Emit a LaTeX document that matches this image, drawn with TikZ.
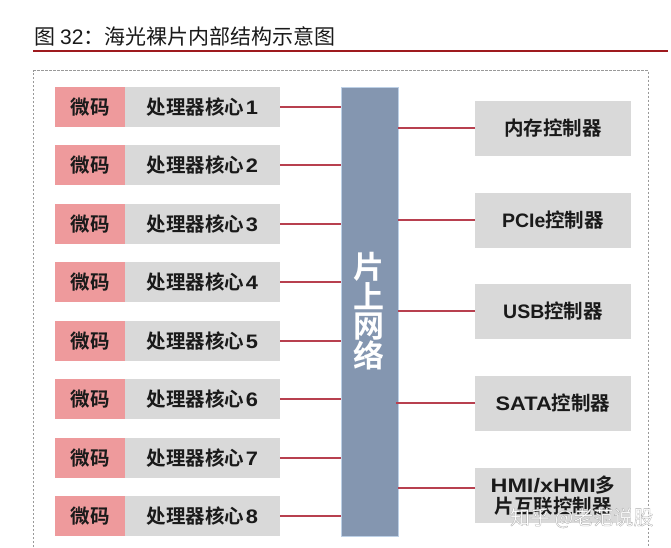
\documentclass[tikz,border=0pt]{standalone}
\usepackage{fontspec}
\setmainfont{Liberation Sans}
\newfontfamily\cjk{Noto Sans CJK SC}
\newfontfamily\cjkb{Noto Sans CJK SC Bold}
\newfontfamily\latn{Liberation Sans Bold}
\newfontfamily\latb[FakeStretch=1.12]{Liberation Sans Bold}
\newfontfamily\latw[FakeStretch=1.2]{Liberation Sans Bold}
\definecolor{micro}{HTML}{EE9A9C}
\definecolor{boxg}{HTML}{D9D9D9}
\definecolor{busc}{HTML}{8496B0}
\definecolor{busedge}{HTML}{BDD0E6}
\definecolor{redl}{HTML}{B8404F}
\definecolor{titler}{HTML}{9E1A1E}
\definecolor{txt}{HTML}{1A1A1A}
\tikzset{
  every node/.style={inner sep=0pt,outer sep=0pt},
  microbox/.style={fill=micro,minimum width=70pt,minimum height=39.5pt,text=txt,font=\cjkb\fontsize{19.5}{19.5}\selectfont},
  corebox/.style={fill=boxg,minimum width=155pt,minimum height=39.5pt,text=txt,font=\cjkb\fontsize{19.5}{19.5}\selectfont},
  ctrlbox/.style={fill=boxg,minimum width=156pt,minimum height=55pt,text=txt,align=center,font=\cjkb\fontsize{19.5}{20.5}\selectfont},
  wire/.style={draw=redl,line width=1.6pt},
}
\begin{document}
\begin{tikzpicture}[x=1pt,y=-1pt]
\useasboundingbox[fill=white] (0,0) rectangle (671,547);
% title
\node[anchor=west,text=txt,font=\cjk\fontsize{21}{21}\selectfont] (title) at (34.5,36.5) {图 {\fontspec{Liberation Sans}32}：海光裸片内部结构示意图};
\coordinate (ruleL) at (33,51);
\coordinate (ruleR) at (668,51);
\draw[titler,line width=1.6pt] (ruleL) -- (ruleR);
% dashed frame
\coordinate (frameBL) at (33.5,547);
\coordinate (frameTL) at (33.5,70.5);
\coordinate (frameTR) at (648,70.5);
\coordinate (frameBR) at (648,547);
\draw[gray!80,line width=0.8pt,dash pattern=on 2.5pt off 1.5pt] (frameBL) -- (frameTL) -- (frameTR) -- (frameBR);
% bus
\node[fill=busc,draw=busedge,line width=1pt,minimum width=57pt,minimum height=449pt] (bus) at (369.5,311.5) {};
\node[text=white,align=center,font=\cjkb\fontsize{31}{29.5}\selectfont] (buslabel) at (369,311) {片\\上\\网\\络};
% cores
\foreach \i/\y in {1/107,2/165,3/224,4/282,5/341,6/399,7/458,8/516}{
  \node[microbox] (m\i) at (90,\y) {微码};
  \node[corebox] (c\i) at (202.5,\y) {处理器核心\kern1.5pt{\latb\i}};
  \draw[wire] (c\i.east) -- (bus.west |- c\i.east);
}
% controllers
\node[ctrlbox] (k1) at (553,128) {内存控制器};
\node[ctrlbox] (k2) at (553,220) {{\latn PCIe}控制器};
\node[ctrlbox] (k3) at (553,311) {{\latn USB}控制器};
\node[ctrlbox] (k4) at (553,403) {{\latb SATA}控制器};
\node[ctrlbox] (k5) at (553,495.5) {{\latw HMI/xHMI}多\\片互联控制器};
\draw[wire] (k1.west) -- (bus.east |- k1.west);
\draw[wire] (k2.west) -- (bus.east |- k2.west);
\draw[wire] (k3.west) -- (bus.east |- k3.west);
\draw[wire] (k4.west) -- ([xshift=-2pt]bus.east |- k4.west);
\coordinate (k5in) at (475,488);
\draw[wire] (k5in) -- (bus.east |- k5in);
% watermark
\node[anchor=west,text=white,font=\cjk\fontsize{20}{20}\selectfont] (wm) at (510,518) {\special{pdf:code 2 Tr 0.68 G 0.3 w}知乎 @老范说股\special{pdf:code 0 Tr}};
\end{tikzpicture}
\end{document}
